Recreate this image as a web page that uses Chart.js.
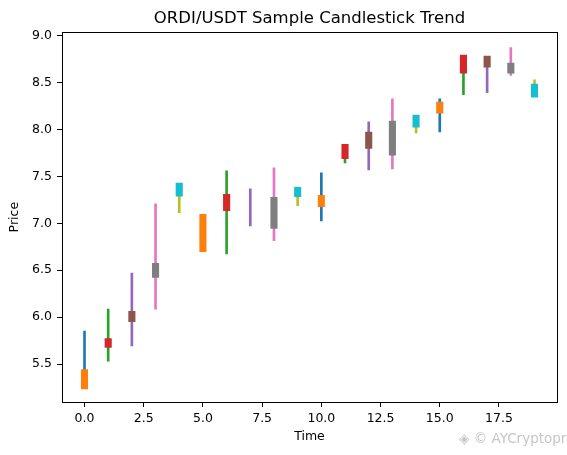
<!DOCTYPE html>
<html>
<head>
<meta charset="utf-8">
<script src="https://cdn.jsdelivr.net/npm/chart.js@4/dist/chart.umd.min.js"></script>
<style>
  html, body { margin: 0; padding: 0; background: #fff; }
  #wrap { width: 567px; height: 455px; }
</style>
</head>
<body>
<div id="wrap"><canvas id="c" width="567" height="455"></canvas></div>
<script>
// ---- data ----
const times  = [0, 1, 2, 3, 4, 5, 6, 7, 8, 9, 10, 11, 12, 13, 14, 15, 16, 17, 18, 19];
const opens  = [5.233, 5.674, 5.948, 6.420, 7.284, 6.694, 7.131, 7.150, 6.942, 7.280, 7.174, 7.685, 7.792, 7.721, 8.019, 8.168, 8.595, 8.659, 8.595, 8.339];
const closes = [5.447, 5.777, 6.065, 6.577, 7.430, 7.099, 7.312, 7.150, 7.280, 7.387, 7.302, 7.845, 7.973, 8.091, 8.155, 8.293, 8.794, 8.784, 8.709, 8.485];
const highs  = [5.852, 6.086, 6.470, 7.206, 7.400, 7.050, 7.558, 7.366, 7.590, 7.350, 7.536, 7.800, 8.080, 8.325, 8.100, 8.325, 8.750, 8.750, 8.869, 8.528];
const lows   = [5.240, 5.532, 5.695, 6.086, 7.113, 6.750, 6.673, 6.971, 6.815, 7.188, 7.025, 7.643, 7.568, 7.579, 7.963, 7.973, 8.368, 8.389, 8.574, 8.400];
const palette = ['#1f77b4', '#ff7f0e', '#2ca02c', '#d62728', '#9467bd', '#8c564b', '#e377c2', '#7f7f7f', '#bcbd22', '#17becf'];
const xTickStep = 2.5;
const yTickStep = 0.5;

const wickData = times.map((t, i) => ({ x: t, y: [lows[i], highs[i]] }));
const bodyData = times.map((t, i) => ({ x: t, y: [opens[i], closes[i]] }));
const wickColors = times.map((t, i) => palette[(2 * i) % 10]);
const bodyColors = times.map((t, i) => palette[(2 * i + 1) % 10]);

const FONT = 'DejaVu Sans';

const frame = {
  id: 'frame',
  afterDatasetsDraw(chart) {
    const { ctx, chartArea: a } = chart;
    ctx.save();
    ctx.strokeStyle = '#000';
    ctx.lineWidth = 1;
    ctx.strokeRect(Math.round(a.left) + 0.5, Math.round(a.top) + 0.5,
                   Math.round(a.right - a.left), Math.round(a.bottom - a.top));
    ctx.restore();
  },
  afterDraw(chart) {
    const ctx = chart.ctx;
    ctx.save();
    ctx.fillStyle = '#c6c6c6';
    ctx.font = '13.5px ' + FONT;
    ctx.textBaseline = 'middle';
    ctx.textAlign = 'left';
    ctx.fillText('◈ © AYCryptopro', 459, 439);
    ctx.restore();
  }
};

new Chart(document.getElementById('c'), {
  type: 'bar',
  data: {
    datasets: [
      {
        label: 'body',
        data: bodyData,
        backgroundColor: bodyColors,
        borderWidth: 0,
        grouped: false,
        barPercentage: 0.3,
        categoryPercentage: 1.0,
        order: 0
      },
      {
        label: 'wick',
        data: wickData,
        backgroundColor: wickColors,
        borderWidth: 0,
        grouped: false,
        barThickness: 2,
        order: 1
      }
    ]
  },
  plugins: [frame],
  options: {
    responsive: false,
    animation: false,
    devicePixelRatio: 1,
    layout: { padding: { left: 0, right: 10, top: 0, bottom: 0 } },
    plugins: {
      legend: { display: false },
      tooltip: { enabled: false },
      title: {
        display: true,
        text: 'ORDI/USDT Sample Candlestick Trend',
        color: '#000',
        fullSize: false,
        font: { family: FONT, size: 16.5, weight: 'normal' },
        padding: { top: 8.5, bottom: 4 }
      }
    },
    scales: {
      x: {
        type: 'linear',
        min: -0.95,
        max: 19.95,
        offset: false,
        afterFit(s) { s.height = 53; },
        grid: { display: true, offset: false, drawOnChartArea: false, drawTicks: true, tickLength: 5, color: '#000', lineWidth: 1 },
        border: { display: true, color: '#000', width: 1 },
        ticks: {
          stepSize: xTickStep,
          includeBounds: false,
          autoSkip: false,
          maxRotation: 0,
          padding: 4,
          color: '#000',
          font: { family: FONT, size: 12.5 },
          callback: v => Number(v).toFixed(1)
        },
        title: {
          display: true,
          text: 'Time',
          color: '#000',
          font: { family: FONT, size: 12.5 },
          padding: { top: 0, bottom: 10.5 }
        }
      },
      y: {
        type: 'linear',
        min: 5.097,
        max: 9.033,
        afterFit(s) { s.width = 62; },
        grid: { display: true, offset: false, drawOnChartArea: false, drawTicks: true, tickLength: 5, color: '#000', lineWidth: 1 },
        border: { display: true, color: '#000', width: 1 },
        ticks: {
          stepSize: yTickStep,
          includeBounds: false,
          autoSkip: false,
          padding: 5,
          color: '#000',
          font: { family: FONT, size: 12.5 },
          callback: v => Number(v).toFixed(1)
        },
        title: {
          display: true,
          text: 'Price',
          color: '#000',
          font: { family: FONT, size: 12.5 },
          padding: { top: 7.5, bottom: 0 }
        }
      }
    }
  }
});
</script>
</body>
</html>
